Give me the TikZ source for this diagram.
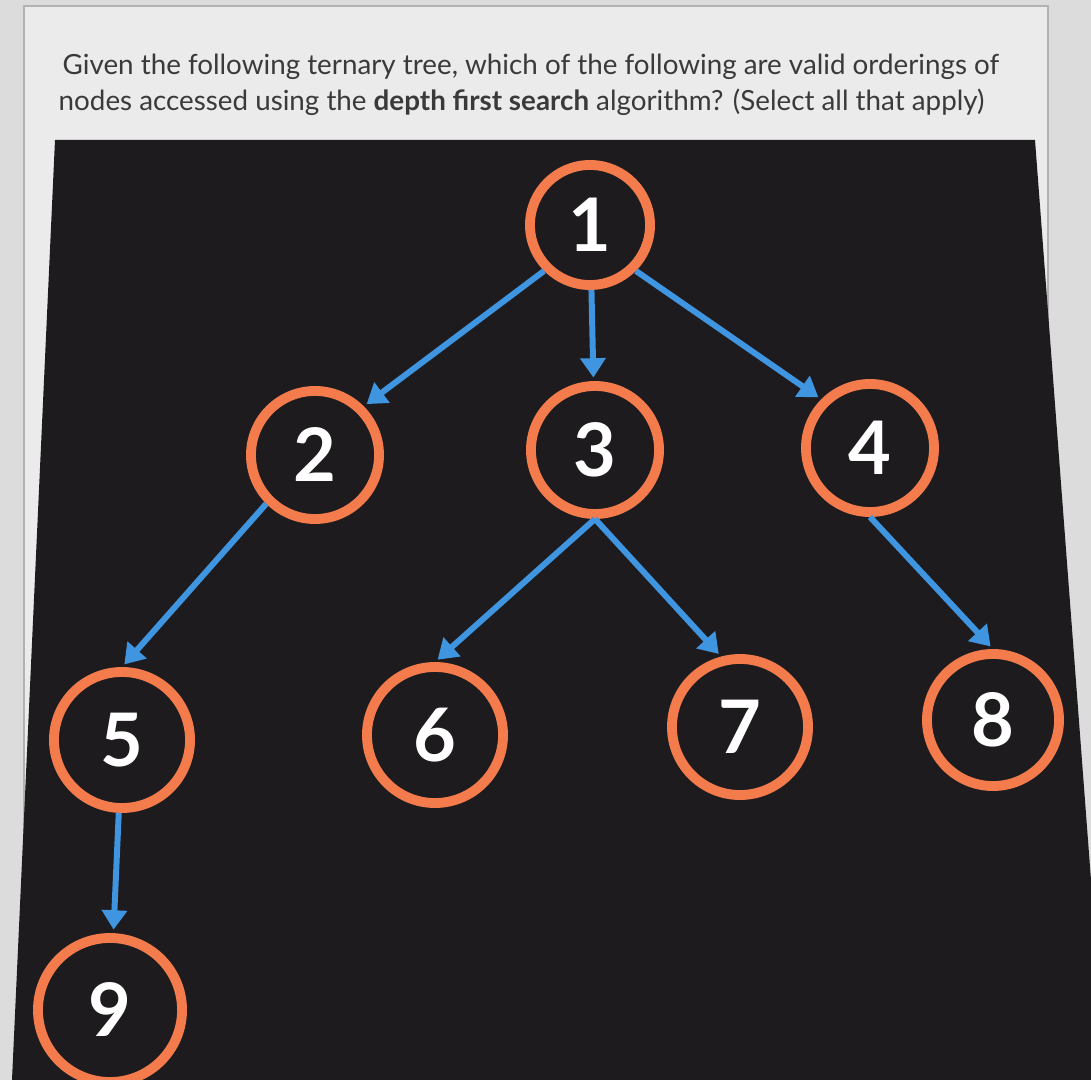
\documentclass[tikz,border=0pt]{standalone}
\usepackage{fontspec}
\setmainfont{Lato}
\usetikzlibrary{arrows.meta}
\definecolor{pagegray}{HTML}{DCDCDC}
\definecolor{cardgray}{HTML}{EBEBEB}
\definecolor{panelblack}{HTML}{1E1B1F}
\definecolor{ringorange}{HTML}{F47C4C}
\definecolor{edgeblue}{HTML}{3F95E0}
\definecolor{textgray}{HTML}{3A3A3A}

\begin{document}
\begin{tikzpicture}[x=0.01cm,y=-0.01cm,
	treenode/.style={circle, draw=ringorange, line width=2.8pt, fill=panelblack,
		text=white, font=\fontsize{21}{21}\selectfont\bfseries, minimum size=1.28cm, inner sep=0pt},
	edge/.style={draw=edgeblue, line width=1.7pt, -{Triangle[width=7pt,length=5.5pt]}, shorten >=1pt},
	qline/.style={anchor=base west, text=textgray, font=\fontsize{7.9}{9}\selectfont, inner sep=0pt}]
	\useasboundingbox (0,0) rectangle (1091,1080);
	\fill[pagegray] (0,0) rectangle (1091,1080);
	\filldraw[fill=cardgray, draw=gray!60] (24,6) rectangle (1048,1085);
	% question text
	\node[qline] (line1) at (62,75) {Given the following ternary tree, which of the following are valid orderings of};
	\node[qline] (line2) at (58,111) {nodes accessed using the \textbf{depth first search} algorithm? (Select all that apply)};
	% dark panel
	\fill[panelblack] (55,140) -- (1035,140) -- (1091,880) -- (1091,1080) -- (12,1080) -- cycle;
	% tree
	\node[treenode, minimum size=1.2cm] (n1) at (590,225) {1};
	\node[treenode] (n2) at (315,455) {2};
	\node[treenode] (n3) at (595,450) {3};
	\node[treenode] (n4) at (870,448) {4};
	\node[treenode, minimum size=1.36cm] (n5) at (122,740) {5};
	\node[treenode, minimum size=1.36cm] (n6) at (435,735) {6};
	\node[treenode, minimum size=1.36cm] (n7) at (740,727) {7};
	\node[treenode, minimum size=1.32cm] (n8) at (993,720) {8};
	\node[treenode, minimum size=1.44cm] (n9) at (110,1010) {9};
	\draw[edge] (n1.south west) -- (n2.north east);
	\draw[edge] (n1) -- (n3);
	\draw[edge] (n1.south east) -- (n4.north west);
	\draw[edge] (n2.south west) -- (n5.north);
	\draw[edge] (n3.south) -- (n6.north);
	\draw[edge] (n3.south) -- (n7.105);
	\draw[edge] (n4.south) -- (n8.north);
	\draw[edge] (n5) -- (n9);
\end{tikzpicture}
\end{document}
